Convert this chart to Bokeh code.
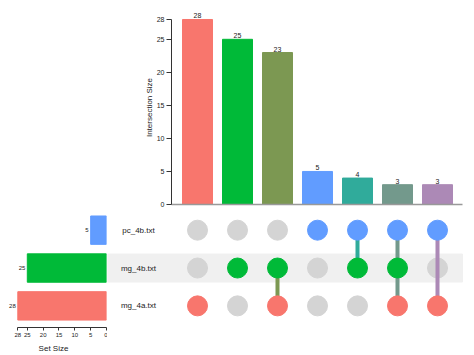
from bokeh.plotting import figure
from bokeh.models import Range1d, FixedTicker, Spacer
from bokeh.layouts import column, row
from bokeh.core.properties import value
from bokeh.embed import file_html
from bokeh.resources import INLINE

# ---- data ----
sets = ["mg_4a.txt", "mg_4b.txt", "pc_4b.txt"]          # bottom -> top rows
set_sizes = [28, 25, 5]
set_colors = ["#F8766D", "#00BA38", "#619CFF"]

inter_sizes = [28, 25, 23, 5, 4, 3, 3]
inter_members = [
    ["mg_4a.txt"],
    ["mg_4b.txt"],
    ["mg_4a.txt", "mg_4b.txt"],
    ["pc_4b.txt"],
    ["pc_4b.txt", "mg_4b.txt"],
    ["pc_4b.txt", "mg_4b.txt", "mg_4a.txt"],
    ["pc_4b.txt", "mg_4a.txt"],
]
inter_colors = ["#F8766D", "#00BA38", "#7C9852", "#619CFF", "#30AB9B", "#73998C", "#AC89B6"]

inter_ticks = [0, 5, 10, 15, 20, 25, 28]
set_ticks = [0, 5, 10, 15, 20, 25, 28]

FONT = "Liberation Sans"
TXT = "#222222"

n_cols = len(inter_sizes)
xs = list(range(n_cols))
rows_idx = list(range(len(sets)))

LEFT_W = 107
RIGHT_W = 367
TOP_H = 211
BOT_H = 144
BOT_BORDER = 26

# ---- top: intersection sizes ----
top = figure(width=RIGHT_W, height=TOP_H, x_range=Range1d(-0.65, 6.925), y_range=Range1d(0, 29.36),
             output_backend="svg", toolbar_location=None,
             min_border_left=64, min_border_right=0, min_border_top=10, min_border_bottom=7)
top.grid.visible = False
top.outline_line_color = None
top.vbar(x=xs, top=inter_sizes, width=0.75, color=inter_colors)
top.text(x=xs, y=inter_sizes, text=[str(v) for v in inter_sizes], text_align="center",
         text_baseline="bottom", y_offset=-1, text_font_size="7px", text_font=value(FONT),
         text_color=TXT)
ya = top.yaxis[0]
ya.ticker = FixedTicker(ticks=inter_ticks)
ya.bounds = (0, max(inter_ticks))
ya.axis_label = "Intersection Size"
ya.axis_label_text_font = FONT
ya.axis_label_text_font_size = "8px"
ya.axis_label_text_font_style = "normal"
ya.axis_label_text_color = TXT
ya.axis_label_standoff = 0
ya.major_label_text_font = FONT
ya.major_label_text_font_size = "7px"
ya.major_label_text_color = TXT
ya.major_tick_out = 5
ya.major_tick_in = 0
ya.major_label_standoff = 2
ya.minor_tick_line_color = None
ya.axis_line_color = "#333333"
ya.major_tick_line_color = "#333333"
xa = top.xaxis[0]
xa.ticker = FixedTicker(ticks=[])
xa.major_label_text_font_size = "0px"
xa.major_tick_line_color = None
xa.minor_tick_line_color = None
xa.major_label_standoff = 0
xa.axis_line_color = "#999999"
xa.axis_line_width = 1.5
xa.bounds = (-0.65, n_cols - 0.375)

# shared vertical mapping for the bottom row (frames of equal height)
bottom_y = Range1d(-0.5714, 2.4935)

# ---- matrix ----
mat = figure(width=RIGHT_W, height=BOT_H, x_range=Range1d(-2.25, 6.925), y_range=bottom_y,
             output_backend="svg", toolbar_location=None, x_axis_location=None, y_axis_location=None,
             min_border_left=0, min_border_right=0, min_border_top=0, min_border_bottom=BOT_BORDER)
mat.grid.visible = False
mat.outline_line_color = None
band_rows = [r for r in rows_idx if r % 2 == 1]
mat.hbar(y=band_rows, left=-2.25, right=n_cols - 0.375, height=0.74, color="#F0F0F0")
mat.text(x=-1.475, y=rows_idx, text=sets, text_align="center", text_baseline="middle",
         text_font_size="8px", text_font=value(FONT), text_color=TXT)

gx, gy, cx, cy, cc = [], [], [], [], []
for i, mem in enumerate(inter_members):
    for r, s in enumerate(sets):
        if s in mem:
            cx.append(i); cy.append(r); cc.append(set_colors[r])
        else:
            gx.append(i); gy.append(r)
mat.scatter(x=gx, y=gy, size=20, color="#D4D4D4")
sx, sy0, sy1, sc = [], [], [], []
for i, mem in enumerate(inter_members):
    rr = [sets.index(s) for s in mem]
    if len(rr) > 1:
        sx.append(i); sy0.append(min(rr)); sy1.append(max(rr)); sc.append(inter_colors[i])
mat.segment(x0=sx, y0=sy0, x1=sx, y1=sy1, line_color=sc, line_width=4)
mat.scatter(x=cx, y=cy, size=20, color=cc)

# ---- left: set sizes ----
left = figure(width=LEFT_W, height=BOT_H, x_range=Range1d(33.46, 0), y_range=bottom_y,
              output_backend="svg", toolbar_location=None, y_axis_location=None,
              min_border_left=0, min_border_right=1, min_border_top=0, min_border_bottom=BOT_BORDER)
left.grid.visible = False
left.outline_line_color = None
left.hbar(y=rows_idx, left=0, right=set_sizes, height=0.75, color=set_colors)
left.text(x=set_sizes, y=rows_idx, text=[str(v) for v in set_sizes], text_align="right",
          text_baseline="middle", x_offset=-2, text_font_size="6px", text_font=value(FONT),
          text_color=TXT)
la = left.xaxis[0]
la.ticker = FixedTicker(ticks=set_ticks)
la.bounds = (0, max(set_ticks))
la.axis_label = "Set Size"
la.axis_label_text_font = FONT
la.axis_label_text_font_size = "8px"
la.axis_label_text_font_style = "normal"
la.axis_label_text_color = TXT
la.axis_label_standoff = 4
la.major_label_text_font = FONT
la.major_label_text_font_size = "6px"
la.major_label_text_color = TXT
la.major_label_standoff = 2
la.major_tick_out = 3
la.major_tick_in = 0
la.minor_tick_line_color = None
la.axis_line_color = "#333333"
la.major_tick_line_color = "#333333"

layout = column(row(Spacer(width=LEFT_W, height=TOP_H), top), row(left, mat))
open("out.html", "w").write(file_html(layout, INLINE))
